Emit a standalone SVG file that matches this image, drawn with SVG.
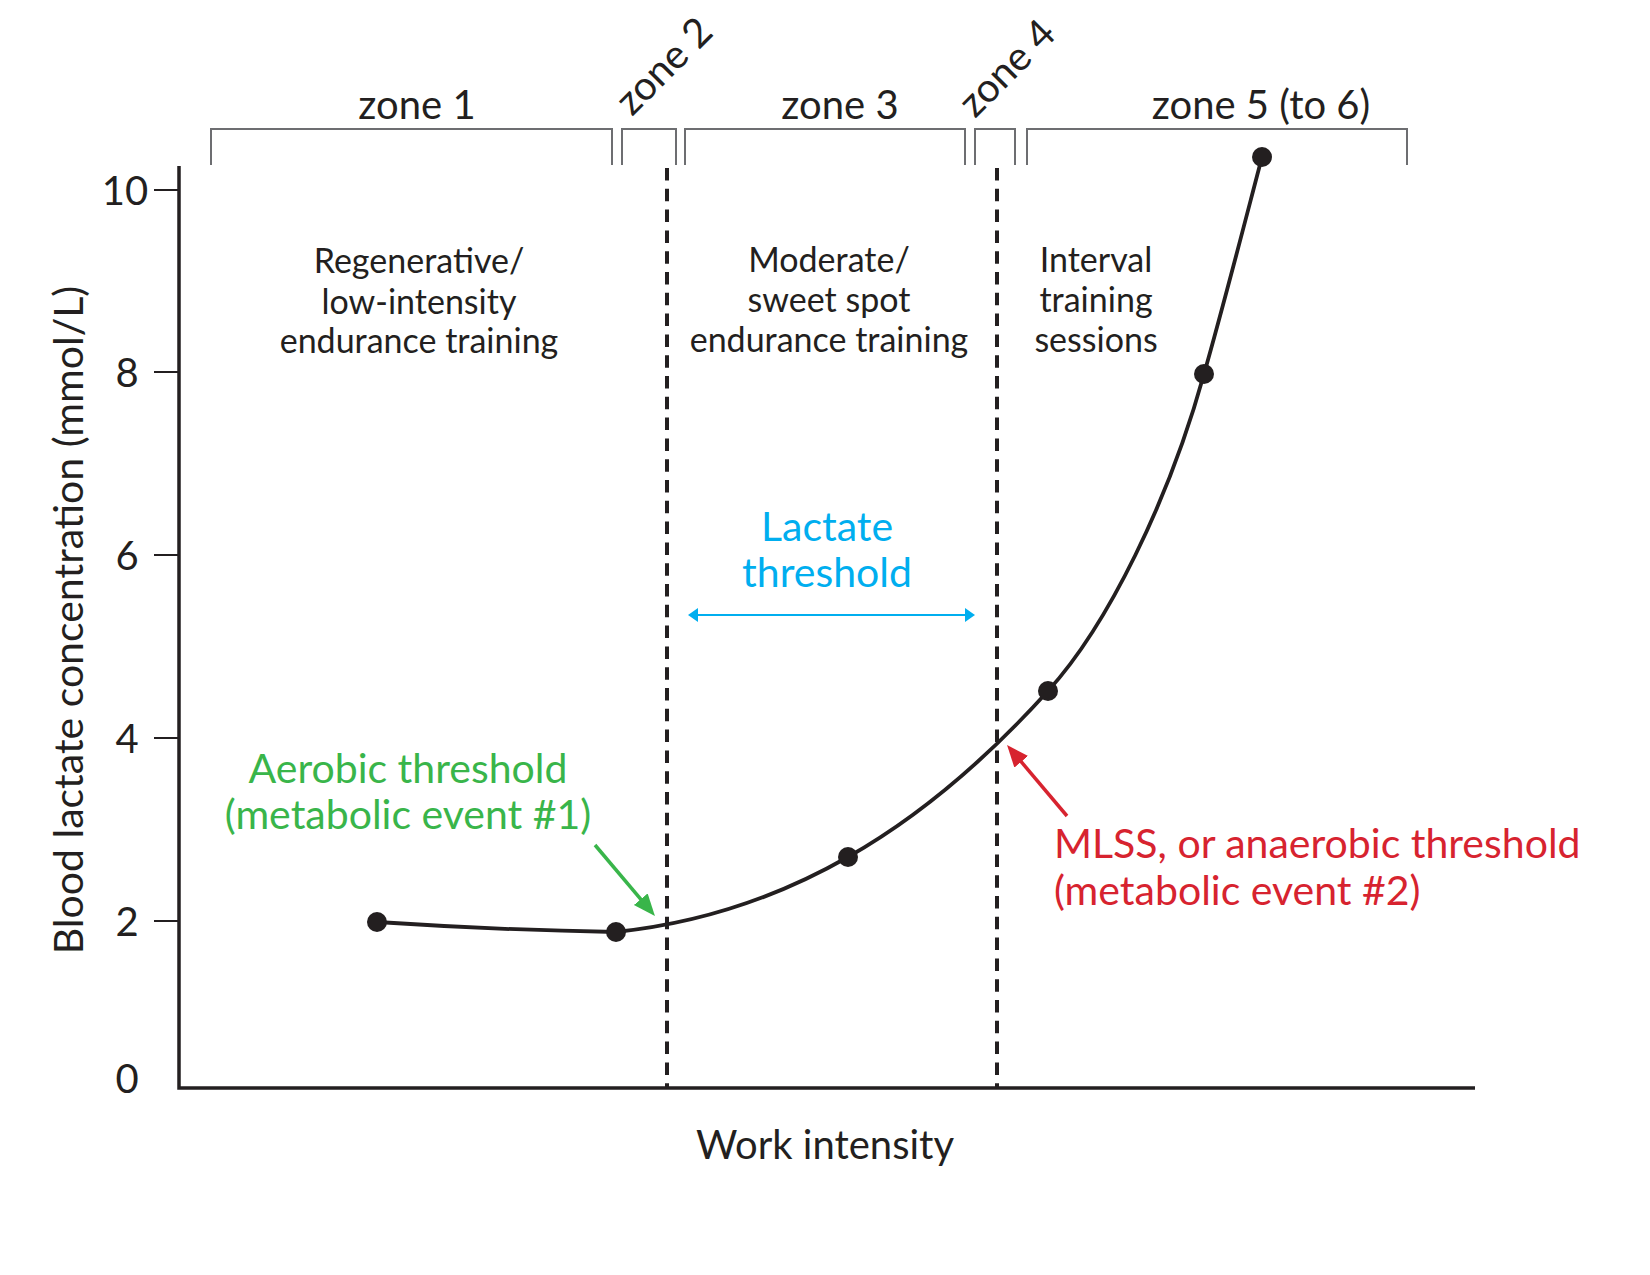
<svg xmlns="http://www.w3.org/2000/svg" width="1650" height="1275" viewBox="0 0 1650 1275">
  <style>
    text { font-family: Lato, "Open Sans", "Liberation Sans", sans-serif; fill: #231f20; }
    .zone { font-size: 40px; }
    .desc { font-size: 34px; text-anchor: middle; }
    .num { font-size: 40px; text-anchor: middle; }
    .axt { font-size: 40px; text-anchor: middle; }
    .ylab { font-size: 41px; text-anchor: middle; }
    .blue { fill: #00aeef; font-size: 41px; text-anchor: middle; }
    .green { fill: #39b54a; font-size: 41px; text-anchor: middle; }
    .red { fill: #d7232f; font-size: 41px; }
    .bracket { fill: none; stroke: #6d6e71; stroke-width: 2; }
    .axis { stroke: #231f20; stroke-width: 3.5; fill: none; }
    .tick { stroke: #231f20; stroke-width: 2; }
    .dash { stroke: #231f20; stroke-width: 4; stroke-dasharray: 12.5 8.3; fill: none; }
    .curve { stroke: #231f20; stroke-width: 3.8; fill: none; }
    .dot { fill: #231f20; }
  </style>
  <defs>
    <marker id="ahBlue" markerUnits="userSpaceOnUse" markerWidth="12" markerHeight="16" refX="7" refY="7" orient="auto-start-reverse">
      <path d="M0,0 L10,7 L0,14 z" fill="#00aeef"/>
    </marker>
    <marker id="ahGreen" markerUnits="userSpaceOnUse" markerWidth="24" markerHeight="20" refX="12" refY="9" orient="auto">
      <path d="M0,0 L22,9 L0,18 z" fill="#39b54a"/>
    </marker>
    <marker id="ahRed" markerUnits="userSpaceOnUse" markerWidth="24" markerHeight="20" refX="12" refY="9" orient="auto">
      <path d="M0,0 L22,9 L0,18 z" fill="#d7232f"/>
    </marker>
  </defs>

  <g id="axes">
    <path class="axis" d="M179,166 L179,1088 L1475,1088"/>
    <line class="tick" x1="154" y1="190" x2="179" y2="190"/>
    <line class="tick" x1="154" y1="372" x2="179" y2="372"/>
    <line class="tick" x1="154" y1="555" x2="179" y2="555"/>
    <line class="tick" x1="154" y1="738" x2="179" y2="738"/>
    <line class="tick" x1="154" y1="921" x2="179" y2="921"/>
    <text class="num" x="125" y="205">10</text>
    <text class="num" x="127" y="387">8</text>
    <text class="num" x="127" y="570">6</text>
    <text class="num" x="127" y="753">4</text>
    <text class="num" x="127" y="936">2</text>
    <text class="num" x="127" y="1093">0</text>
    <text class="axt" x="825" y="1159">Work intensity</text>
    <text class="ylab" transform="translate(83,620) rotate(-90)">Blood lactate concentration (mmol/L)</text>
  </g>

  <g id="zones">
    <path class="bracket" d="M211,165 V129 H612 V165"/>
    <path class="bracket" d="M622,165 V129 H676 V165"/>
    <path class="bracket" d="M685,165 V129 H965 V165"/>
    <path class="bracket" d="M975,165 V129 H1015 V165"/>
    <path class="bracket" d="M1027,165 V129 H1407 V165"/>
    <text class="zone" x="417" y="119" text-anchor="middle">zone 1</text>
    <text class="zone" transform="translate(632,117) rotate(-45)">zone 2</text>
    <text class="zone" x="840" y="119" text-anchor="middle">zone 3</text>
    <text class="zone" transform="translate(975,119) rotate(-45)">zone 4</text>
    <text class="zone" x="1261" y="119" text-anchor="middle">zone 5 (to 6)</text>
  </g>

  <g id="thresholds">
    <line class="dash" x1="667" y1="168" x2="667" y2="1088"/>
    <line class="dash" x1="997" y1="168" x2="997" y2="1088"/>
  </g>

  <g id="descriptions">
    <text class="desc" x="419" y="273">Regenerative/</text>
    <text class="desc" x="419" y="314">low-intensity</text>
    <text class="desc" x="419" y="353">endurance training</text>
    <text class="desc" x="829" y="272">Moderate/</text>
    <text class="desc" x="829" y="312">sweet spot</text>
    <text class="desc" x="829" y="352">endurance training</text>
    <text class="desc" x="1096" y="272">Interval</text>
    <text class="desc" x="1096" y="312">training</text>
    <text class="desc" x="1096" y="352">sessions</text>
  </g>

  <g id="curve">
    <path class="curve" d="M377,922 Q497,930 616,932 C693,924 771,901 848,857 C915,819 981,765 1048,691 C1108,625 1169,500 1204,374 C1224,304 1248,210 1262,157"/>
    <circle class="dot" cx="377" cy="922" r="10"/>
    <circle class="dot" cx="616" cy="932" r="10"/>
    <circle class="dot" cx="848" cy="857" r="10"/>
    <circle class="dot" cx="1048" cy="691" r="10"/>
    <circle class="dot" cx="1204" cy="374" r="10"/>
    <circle class="dot" cx="1262" cy="157" r="10"/>
  </g>

  <g id="lactate-threshold">
    <text class="blue" x="827" y="541">Lactate</text>
    <text class="blue" x="827" y="587">threshold</text>
  </g>
  <g id="aerobic-threshold">
    <text class="green" x="408" y="783">Aerobic threshold</text>
    <text class="green" x="408" y="829">(metabolic event #1)</text>
  </g>
  <g id="anaerobic-threshold">
    <text class="red" x="1054" y="858">MLSS, or anaerobic threshold</text>
    <text class="red" x="1054" y="905">(metabolic event #2)</text>
  </g>

  <g id="connectors">
    <line x1="691" y1="615" x2="972" y2="615" stroke="#00aeef" stroke-width="2" marker-start="url(#ahBlue)" marker-end="url(#ahBlue)"/>
    <line x1="595" y1="845" x2="648.5" y2="908.4" stroke="#39b54a" stroke-width="3.5" marker-end="url(#ahGreen)"/>
    <line x1="1067" y1="816" x2="1013.5" y2="752.6" stroke="#d7232f" stroke-width="3.5" marker-end="url(#ahRed)"/>
  </g>
</svg>
